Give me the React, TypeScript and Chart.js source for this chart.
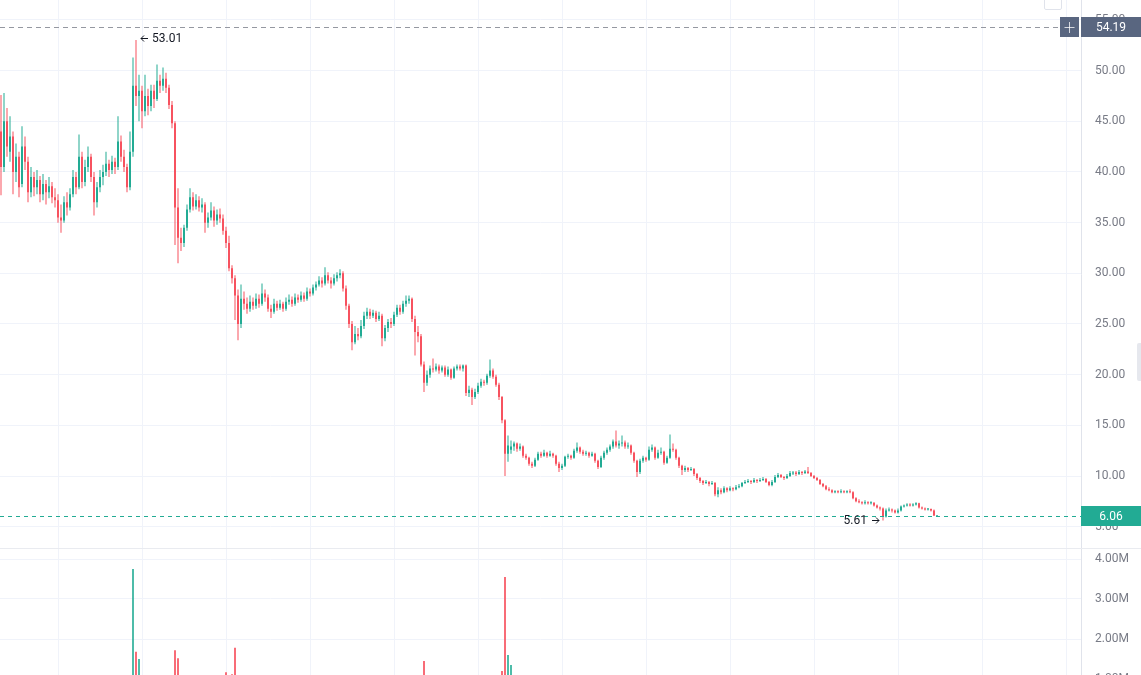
import React, { useEffect, useRef } from "react";
import { Chart, registerables } from "chart.js";

Chart.register(...registerables);

// ---- Data ----
const OPEN = [
  44.0,40.5,45.0,42.0,43.5,40.0,41.5,38.8,42.5,41.0,
  38.0,39.5,38.5,39.2,37.8,38.8,38.0,38.6,37.5,37.2,
  35.5,35.2,37.0,36.5,37.8,39.5,38.5,41.5,39.0,40.5,
  41.5,39.5,37.0,38.5,39.5,40.0,40.8,40.2,41.0,40.5,
  43.0,41.5,40.5,38.5,42.0,48.5,47.5,48.0,46.0,47.5,
  46.5,48.0,47.2,49.0,48.5,49.2,48.3,46.6,44.8,36.5,
  33.5,33.0,34.5,36.3,37.5,36.6,37.2,36.5,36.8,35.0,
  35.5,36.2,35.2,35.8,35.4,34.2,33.0,30.5,29.5,27.8,
  25.0,27.5,27.0,26.5,27.2,26.8,27.5,27.0,28.0,27.6,
  26.5,26.2,27.0,26.6,27.0,26.5,27.2,27.4,27.0,27.6,
  27.4,27.8,27.5,28.2,28.0,28.6,28.9,29.3,29.0,29.8,
  29.3,29.0,29.5,29.8,30.0,28.5,26.8,25.0,23.2,24.0,
  23.8,24.8,25.8,26.2,25.8,26.1,25.5,25.8,23.6,24.6,
  25.2,25.0,25.9,26.6,26.2,27.0,27.3,27.5,25.5,24.2,
  23.8,21.0,19.2,20.0,20.6,20.5,20.8,20.4,20.7,20.0,
  20.5,19.7,20.6,20.8,20.6,20.9,18.2,18.5,17.8,18.3,
  18.9,19.3,19.2,19.9,20.4,19.8,19.0,17.8,15.5,12.2,
  12.6,12.9,13.2,12.7,12.9,12.0,11.8,11.2,11.0,11.6,
  12.2,12.0,12.3,12.0,12.2,12.0,11.2,10.8,11.0,11.9,
  12.0,11.8,12.5,12.8,12.4,12.2,12.3,12.0,12.2,11.5,
  10.9,11.8,12.3,12.6,12.9,13.4,13.0,13.2,13.3,12.9,
  13.0,12.3,11.5,10.4,11.5,11.8,11.6,12.6,12.8,11.8,
  12.3,12.4,11.3,11.8,12.7,12.6,11.8,11.0,10.6,10.8,
  10.6,10.7,10.2,9.8,9.5,9.3,9.4,9.2,9.3,8.2,
  8.6,8.4,8.8,8.6,8.8,8.7,8.9,9.0,9.3,9.4,
  9.5,9.4,9.6,9.5,9.6,9.7,9.4,9.1,9.4,9.9,
  10.1,9.9,9.8,10.0,10.25,10.35,10.2,10.4,10.3,10.45,
  10.3,10.0,9.8,9.6,9.2,9.0,8.7,8.6,8.4,8.5,
  8.4,8.5,8.4,8.5,8.4,7.8,7.5,7.4,7.3,7.4,
  7.3,7.35,7.1,6.9,6.8,6.0,6.6,6.7,6.6,6.4,
  6.6,7.0,7.1,7.2,7.1,7.2,7.3,6.9,6.8,6.7,
  6.75,6.6,6.0,
];

const HIGH = [
  47.6,47.8,46.3,45.5,44.0,42.8,42.0,44.5,43.5,41.5,
  40.5,40.0,40.2,39.6,39.8,39.2,39.5,39.0,38.4,37.8,
  36.8,37.6,38.0,38.4,40.2,40.0,43.7,42.0,41.2,42.5,
  41.8,40.0,39.0,40.2,40.7,42.0,41.2,41.6,41.4,45.5,
  43.6,42.2,40.8,44.0,51.3,53.01,49.6,48.5,49.6,48.2,
  48.6,48.6,50.6,49.6,50.3,49.8,48.6,47.0,45.0,38.4,
  34.5,34.8,36.8,38.4,38.0,37.8,37.6,37.4,37.0,36.0,
  37.0,36.6,36.3,36.4,35.8,34.6,33.7,30.8,29.8,28.4,
  28.9,28.2,27.6,27.8,27.6,28.0,27.9,29.0,28.4,27.9,
  26.9,27.5,27.3,27.4,27.2,27.6,27.9,27.7,28.0,27.9,
  28.2,28.1,28.6,28.5,28.9,29.2,29.7,29.6,30.6,30.1,
  29.6,29.9,30.1,30.4,30.2,28.8,27.0,25.3,24.8,24.6,
  25.4,26.2,26.6,26.5,26.4,26.3,26.2,26.0,24.9,25.5,
  25.6,26.2,26.9,26.9,27.3,27.8,27.8,27.6,25.8,24.8,
  24.0,21.3,20.4,20.9,21.6,21.1,21.0,20.9,20.9,20.8,
  20.6,20.8,21.0,21.0,21.0,21.0,18.9,18.7,18.6,19.2,
  19.6,19.5,20.1,21.5,20.6,20.0,19.2,17.9,15.6,14.0,
  13.5,13.4,13.3,13.2,13.0,12.2,11.9,11.4,11.8,12.4,
  12.4,12.6,12.4,12.5,12.3,12.1,11.4,11.2,12.0,12.2,
  12.1,12.7,13.3,12.9,12.6,12.5,12.4,12.4,12.3,11.6,
  12.0,12.5,12.8,13.1,13.6,14.5,13.5,14.0,13.5,13.3,
  13.1,12.4,11.6,11.7,12.0,11.9,12.9,13.1,12.9,12.6,
  12.8,12.5,12.0,14.1,13.2,12.7,11.9,11.1,11.0,10.9,
  10.9,10.8,10.3,9.9,9.6,9.6,9.5,9.5,9.4,8.9,
  8.8,9.0,8.9,9.0,8.9,9.1,9.2,9.4,9.6,9.7,
  9.6,9.8,9.7,9.8,9.9,9.8,9.5,9.6,10.1,10.3,
  10.2,10.0,10.2,10.5,10.5,10.5,10.6,10.5,10.6,10.9,
  10.4,10.1,9.9,9.7,9.3,9.1,8.9,8.7,8.6,8.6,
  8.7,8.6,8.6,8.7,8.5,7.9,7.7,7.5,7.6,7.5,
  7.5,7.4,7.2,7.0,6.9,6.8,6.9,6.8,6.7,6.8,
  7.1,7.2,7.3,7.3,7.3,7.4,7.35,7.0,6.9,6.85,
  6.8,6.7,6.15,
];

const LOW = [
  37.7,40.0,41.5,41.0,37.8,39.0,37.5,38.5,40.2,37.0,
  37.5,37.6,37.8,37.0,37.2,36.8,37.4,36.9,36.5,35.0,
  34.0,35.0,35.7,36.2,37.5,37.8,38.3,38.4,38.6,40.0,
  39.0,35.7,36.5,38.0,38.7,39.6,39.5,39.8,39.8,40.2,
  41.0,40.0,38.0,38.2,41.5,46.5,45.0,44.3,45.5,45.6,
  46.0,46.3,47.0,47.8,48.0,47.8,46.2,44.3,32.8,31.0,
  32.2,32.6,34.2,36.0,36.2,36.3,36.1,36.0,34.0,34.5,
  35.2,34.6,34.8,35.0,33.8,32.5,30.2,29.0,25.4,23.4,
  24.6,26.4,26.0,26.2,26.4,26.5,26.6,26.8,27.2,26.2,
  25.6,26.0,26.3,26.4,26.2,26.3,26.9,26.7,26.8,27.1,
  27.2,27.2,27.3,27.7,27.8,28.3,28.7,28.6,28.8,29.0,
  28.5,28.8,29.2,29.5,28.2,26.4,24.6,22.4,23.0,23.4,
  23.6,24.5,25.5,25.5,25.6,25.2,25.3,22.8,23.3,24.2,
  24.6,24.8,25.7,25.9,26.0,26.7,27.0,25.2,21.9,23.2,
  20.8,18.3,18.9,19.7,20.2,20.3,20.1,20.2,19.8,19.8,
  19.5,19.6,20.4,20.4,20.3,17.9,17.8,17.0,17.6,18.1,
  18.7,18.9,19.0,19.7,19.6,18.8,17.5,15.2,10.0,11.4,
  12.2,12.5,12.4,12.5,11.8,11.6,11.0,10.8,10.9,11.5,
  11.8,11.9,11.8,11.9,11.8,11.0,10.4,10.6,10.9,11.7,
  11.6,11.7,12.3,12.2,12.0,12.0,11.8,11.9,11.3,10.7,
  10.8,11.6,12.1,12.4,12.7,12.8,12.7,12.9,12.7,12.7,
  12.1,11.3,9.9,10.2,11.3,11.4,11.5,12.4,11.6,11.7,
  12.1,11.1,11.2,11.7,12.4,11.6,10.8,10.1,10.4,10.4,
  10.5,10.0,9.6,9.3,9.1,9.2,9.0,9.1,8.0,7.9,
  8.2,8.3,8.4,8.5,8.5,8.6,8.8,8.9,9.2,9.3,
  9.2,9.3,9.3,9.4,9.5,9.3,9.0,9.0,9.3,9.8,
  9.8,9.6,9.7,9.9,10.1,10.0,10.1,10.1,10.2,10.2,
  9.9,9.7,9.5,9.1,8.9,8.6,8.5,8.3,8.3,8.3,
  8.3,8.3,8.3,8.3,7.7,7.4,7.3,7.2,7.2,7.2,
  7.2,7.0,6.8,6.6,5.61,5.9,6.5,6.4,6.3,6.3,
  6.5,6.9,7.0,7.0,7.0,7.1,6.8,6.7,6.6,6.6,
  6.5,6.05,5.95,
];

const CLOSE = [
  40.5,45.0,42.5,43.5,40.0,41.5,38.5,42.5,41.0,38.0,
  39.5,38.5,39.2,37.8,38.8,38.0,38.6,37.5,37.2,35.5,
  35.2,37.0,36.5,37.8,39.5,38.5,41.5,39.0,40.5,41.5,
  39.5,37.0,38.5,39.5,40.0,40.8,40.2,41.0,40.5,43.0,
  41.5,40.5,38.5,42.0,48.5,47.5,48.0,46.0,47.5,46.5,
  48.0,47.2,49.0,48.5,49.2,48.3,46.6,44.8,36.5,33.5,
  33.0,34.5,36.3,37.5,36.6,37.2,36.5,36.8,35.0,35.5,
  36.2,35.2,35.8,35.4,34.2,33.0,30.5,29.5,27.8,25.0,
  27.5,27.0,26.5,27.2,26.8,27.5,27.0,28.0,27.6,26.5,
  26.2,27.0,26.6,27.0,26.5,27.2,27.4,27.0,27.6,27.4,
  27.8,27.5,28.2,28.0,28.6,28.9,29.3,29.0,29.8,29.3,
  29.0,29.5,29.8,30.0,28.5,26.8,25.0,23.2,24.0,23.8,
  24.8,25.8,26.2,25.8,26.1,25.5,25.8,23.6,24.6,25.2,
  25.0,25.9,26.6,26.2,27.0,27.3,27.5,25.5,24.2,23.8,
  21.0,19.2,20.0,20.6,20.5,20.8,20.4,20.7,20.0,20.5,
  19.7,20.6,20.8,20.6,20.9,18.2,18.5,17.8,18.3,18.9,
  19.3,19.2,19.9,20.4,19.8,19.0,17.8,15.5,12.2,13.0,
  12.9,13.2,12.7,12.9,12.0,11.8,11.2,11.0,11.6,12.2,
  12.0,12.3,12.0,12.2,12.0,11.2,10.8,11.0,11.9,12.0,
  11.8,12.5,12.8,12.4,12.2,12.3,12.0,12.2,11.5,10.9,
  11.8,12.3,12.6,12.9,13.4,13.0,13.2,13.3,12.9,13.0,
  12.3,11.5,10.4,11.5,11.8,11.6,12.6,12.8,11.8,12.3,
  12.4,11.3,11.8,12.7,12.6,11.8,11.0,10.6,10.8,10.6,
  10.7,10.2,9.8,9.5,9.3,9.4,9.2,9.3,8.2,8.6,
  8.4,8.8,8.6,8.8,8.7,8.9,9.0,9.3,9.4,9.5,
  9.4,9.6,9.5,9.6,9.7,9.4,9.1,9.4,9.9,10.1,
  9.9,9.8,10.0,10.3,10.35,10.2,10.4,10.3,10.45,10.3,
  10.0,9.8,9.6,9.2,9.0,8.7,8.6,8.4,8.5,8.4,
  8.5,8.4,8.5,8.4,7.8,7.5,7.4,7.3,7.4,7.3,
  7.35,7.1,6.9,6.8,6.0,6.6,6.7,6.6,6.4,6.6,
  7.0,7.1,7.2,7.1,7.2,7.3,6.9,6.8,6.7,6.75,
  6.6,6.1,6.06,
];

// volume bars (in millions) that rise above the visible bottom edge of the volume pane
const VOL_INDEX = [44, 45, 46, 58, 59, 75, 77, 78, 141, 167, 168, 169, 170, 205];
const VOL_MILLIONS = [3.75, 1.68, 1.5, 1.72, 1.52, 1.17, 1.12, 1.78, 1.45, 1.2, 3.55, 1.6, 1.35, 1.1];

const REF_PRICE = 54.19;

// ---- Style ----
const UP = "#22ab94";
const DOWN = "#f7525f";
const UP_VOL = "rgba(34,171,148,0.8)";
const DOWN_VOL = "rgba(247,82,95,0.85)";
const GRID = "#f0f3fa";
const AXIS_TEXT = "#787b86";
const FONT = 'Roboto, "Liberation Sans", sans-serif';
const X_MIN = -1 / 3;
const X_MAX = 360;
const Y_MIN = 2.896;
const Y_MAX = 56.966;

const isUp = (i: number) => CLOSE[i] >= OPEN[i];

const xAxis: any = {
  type: "linear",
  min: X_MIN,
  max: X_MAX,
  offset: false,
  grid: { color: GRID, drawTicks: false, offset: false },
  border: { display: false },
  ticks: { display: false },
  afterBuildTicks: (s: any) => {
    const t: any[] = [];
    for (let v = 19.25; v < X_MAX; v += 28) t.push({ value: v });
    s.ticks = t;
  },
  afterFit: (s: any) => {
    s.height = 0;
    s.paddingLeft = 0;
    s.paddingRight = 0;
  },
};

function yAxis(min: number, max: number, step: number, fmt: (v: number) => string): any {
  return {
    position: "right",
    min,
    max,
    beginAtZero: false,
    grid: { color: GRID, drawTicks: false },
    border: { display: true, color: "#e0e3eb" },
    ticks: {
      stepSize: step,
      includeBounds: false,
      color: AXIS_TEXT,
      font: { family: FONT, size: 12 },
      padding: 14,
      callback: (v: any) => fmt(Number(v)),
    },
    afterFit: (s: any) => {
      s.width = 60;
      s.paddingTop = 0;
      s.paddingBottom = 0;
    },
  };
}

function labelBox(ctx: CanvasRenderingContext2D, x0: number, x1: number, yc: number, bg: string, text: string) {
  const top = Math.round(yc) - 11;
  ctx.fillStyle = bg;
  ctx.fillRect(x0, top, x1 - x0, 20);
  ctx.fillStyle = "#ffffff";
  ctx.font = `12px ${FONT}`;
  ctx.textAlign = "center";
  ctx.textBaseline = "middle";
  ctx.fillText(text, (x0 + x1) / 2, top + 10.5);
}

const overlayPlugin = {
  id: "overlay",
  afterDraw(chart: any) {
    const { ctx, chartArea } = chart;
    const x = chart.scales.x;
    const y = chart.scales.y;
    const W = chart.width;
    const n = CLOSE.length;
    ctx.save();
    ctx.lineWidth = 1;

    // reference price line
    const yRef = Math.round(y.getPixelForValue(REF_PRICE)) - 0.5;
    ctx.setLineDash([5, 4]);
    ctx.strokeStyle = "#9598a1";
    ctx.beginPath();
    ctx.moveTo(0, yRef);
    ctx.lineTo(chartArea.right - 21, yRef);
    ctx.stroke();

    // last price line
    const last = CLOSE[n - 1];
    const lastColor = isUp(n - 1) ? UP : DOWN;
    const yLast = Math.round(y.getPixelForValue(last)) + 0.5;
    ctx.setLineDash([4, 4]);
    ctx.strokeStyle = lastColor;
    ctx.beginPath();
    ctx.moveTo(0, yLast);
    ctx.lineTo(chartArea.right, yLast);
    ctx.stroke();
    ctx.setLineDash([]);

    // labels on the price axis
    const slate = "#596680";
    labelBox(ctx, chartArea.right, W, yRef + 0.5, slate, REF_PRICE.toFixed(2));
    const pTop = Math.round(yRef + 0.5) - 11;
    ctx.fillStyle = slate;
    ctx.fillRect(chartArea.right - 21, pTop, 19, 20);
    ctx.strokeStyle = "rgba(255,255,255,0.75)";
    ctx.beginPath();
    const pcx = chartArea.right - 11.5;
    const pcy = pTop + 10.5;
    ctx.moveTo(pcx - 5, pcy);
    ctx.lineTo(pcx + 5, pcy);
    ctx.moveTo(pcx, pcy - 5.5);
    ctx.lineTo(pcx, pcy + 5.5);
    ctx.stroke();
    labelBox(ctx, chartArea.right, W, yLast + 0.5, lastColor, last.toFixed(2));

    // high / low markers
    let hi = 0, lo = 0;
    for (let i = 0; i < n; i++) {
      if (HIGH[i] > HIGH[hi]) hi = i;
      if (LOW[i] < LOW[lo]) lo = i;
    }
    ctx.strokeStyle = "#131722";
    ctx.fillStyle = "#131722";
    ctx.font = `12px ${FONT}`;
    ctx.textBaseline = "middle";

    const hx = x.getPixelForValue(hi);
    const hy = Math.round(y.getPixelForValue(HIGH[hi])) - 2 + 0.5;
    ctx.beginPath();
    ctx.moveTo(hx + 5, hy);
    ctx.lineTo(hx + 12, hy);
    ctx.moveTo(hx + 8, hy - 3);
    ctx.lineTo(hx + 5, hy);
    ctx.lineTo(hx + 8, hy + 3);
    ctx.stroke();
    ctx.textAlign = "left";
    ctx.fillText(HIGH[hi].toFixed(2), hx + 16, hy);

    const lx = x.getPixelForValue(lo);
    const ly = Math.round(y.getPixelForValue(LOW[lo])) + 0.5;
    ctx.beginPath();
    ctx.moveTo(lx - 11, ly);
    ctx.lineTo(lx - 4, ly);
    ctx.moveTo(lx - 7, ly - 3);
    ctx.lineTo(lx - 4, ly);
    ctx.lineTo(lx - 7, ly + 3);
    ctx.stroke();
    ctx.textAlign = "right";
    ctx.fillText(LOW[lo].toFixed(2), lx - 16, ly);

    ctx.restore();
  },
};

export default function App() {
  const priceRef = useRef<HTMLCanvasElement>(null);
  const volRef = useRef<HTMLCanvasElement>(null);

  useEffect(() => {
    Chart.defaults.font.family = FONT;
    const idx = CLOSE.map((_, i) => i);
    const colors = idx.map((i) => (isUp(i) ? UP : DOWN));

    const price = new Chart(priceRef.current!, {
      type: "bar",
      data: {
        datasets: [
          {
            data: idx.map((i) => ({ x: i, y: [LOW[i], HIGH[i]] })) as any,
            backgroundColor: colors,
            barThickness: 1,
            grouped: false,
            inflateAmount: 0,
            order: 2,
          } as any,
          {
            data: idx.map((i) => ({ x: i, y: [OPEN[i], CLOSE[i]] })) as any,
            backgroundColor: colors,
            barThickness: 2,
            minBarLength: 1,
            grouped: false,
            inflateAmount: 0,
            order: 1,
          } as any,
        ],
      },
      options: {
        responsive: false,
        maintainAspectRatio: false,
        animation: false,
        events: [],
        layout: { padding: 0 },
        plugins: { legend: { display: false }, tooltip: { enabled: false } },
        scales: {
          x: xAxis,
          y: yAxis(Y_MIN, Y_MAX, 5, (v) => v.toFixed(2)),
        },
      } as any,
      plugins: [overlayPlugin],
    });

    const vol = new Chart(volRef.current!, {
      type: "bar",
      data: {
        datasets: [
          {
            data: VOL_INDEX.map((i, k) => ({ x: i, y: VOL_MILLIONS[k] })) as any,
            backgroundColor: VOL_INDEX.map((i) => (isUp(i) ? UP_VOL : DOWN_VOL)),
            barThickness: 2,
            inflateAmount: 0,
          } as any,
        ],
      },
      options: {
        responsive: false,
        maintainAspectRatio: false,
        animation: false,
        events: [],
        layout: { padding: 0 },
        plugins: { legend: { display: false }, tooltip: { enabled: false } },
        scales: {
          x: xAxis,
          y: yAxis(0, 4.25, 1, (v) => v.toFixed(2) + "M"),
        },
      } as any,
    });

    return () => {
      price.destroy();
      vol.destroy();
    };
  }, []);

  return (
    <div
      style={{
        position: "fixed",
        left: 0,
        top: 0,
        width: 1141,
        height: 675,
        overflow: "hidden",
        background: "#ffffff",
      }}
    >
      <canvas
        ref={priceRef}
        width={1141}
        height={548}
        style={{ position: "absolute", left: 0, top: 0, width: 1141, height: 548 }}
      />
      <div style={{ position: "absolute", left: 0, top: 548, width: 1141, height: 1, background: "#e9ebf0" }} />
      <canvas
        ref={volRef}
        width={1141}
        height={170}
        style={{ position: "absolute", left: 0, top: 549, width: 1141, height: 170 }}
      />
      <div
        style={{
          position: "absolute",
          left: 1044,
          top: -8,
          width: 18,
          height: 18,
          border: "1px solid #e0e3eb",
          borderRadius: 2,
          boxSizing: "border-box",
        }}
      />
      <div
        style={{
          position: "absolute",
          left: 1137,
          top: 343,
          width: 4,
          height: 38,
          background: "#e6e8ee",
          borderRadius: "2px 0 0 2px",
        }}
      />
    </div>
  );
}
